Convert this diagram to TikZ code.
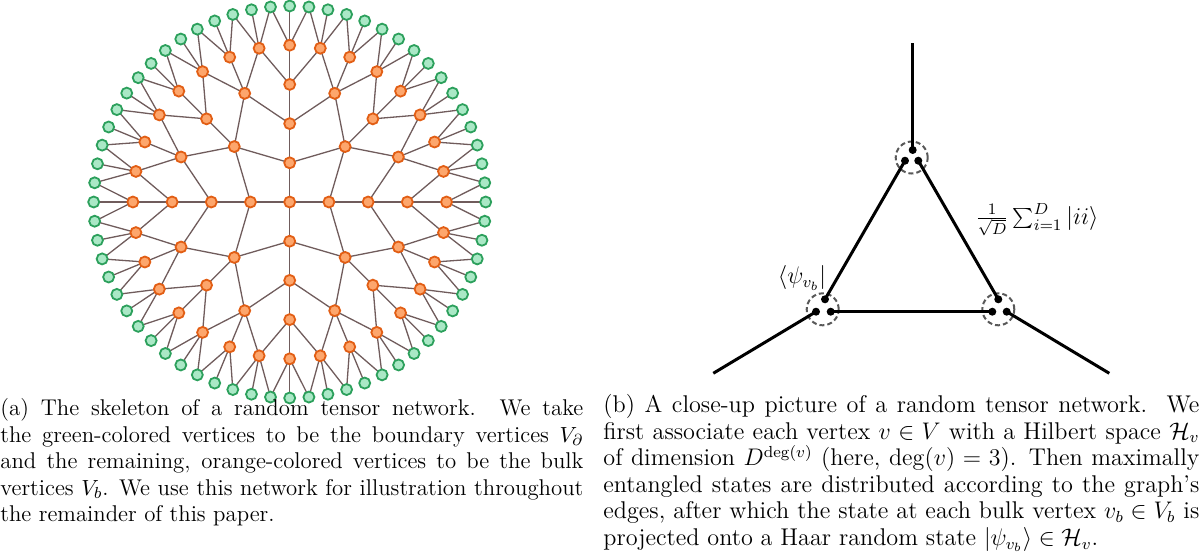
\documentclass[tikz,border=0pt]{standalone}
\usetikzlibrary{calc}
\pgfdeclarelayer{bg}
\pgfsetlayers{bg,main}
\definecolor{edgec}{RGB}{112,92,92}
\definecolor{orfill}{RGB}{253,166,108}
\definecolor{ordraw}{RGB}{226,94,20}
\definecolor{grfill}{RGB}{170,232,198}
\definecolor{grdraw}{RGB}{44,160,92}
\newcommand{\capline}[2]{\makebox[#1][s]{#2}}
\begin{document}
\begin{tikzpicture}[x=0.5pt,y=-0.5pt,
  bulk/.style={circle,draw=ordraw,fill=orfill,line width=0.9pt,minimum size=5.5pt,inner sep=0pt},
  bdry/.style={circle,draw=grdraw,fill=grfill,line width=0.9pt,minimum size=5.5pt,inner sep=0pt},
  link/.style={draw=edgec,line width=0.65pt},
  tline/.style={draw=black,line width=1.5pt},
  blackdot/.style={circle,fill=black,inner sep=0pt,minimum size=4pt},
  dashring/.style={circle,draw=black!65,line width=1pt,dash pattern=on 2.5pt off 1.5pt,minimum size=16pt,inner sep=0pt},
  capta/.style={inner sep=0pt,align=left,font=\fontsize{11.4}{13.25}\selectfont},
  captb/.style={inner sep=0pt,align=left,font=\fontsize{12.1}{13.3}\selectfont},
  lab/.style={inner sep=1pt,font=\fontsize{11.5}{13.25}\selectfont}]
\useasboundingbox (0,0) rectangle (1200,553);
% ---------- (a) network ----------
\coordinate (O) at (289.7,202);
\node[bulk] (c) at (O) {};
\foreach \k in {1,...,5} {
  \pgfmathtruncatemacro\N{4*2^(\k-1)}
  \pgfmathtruncatemacro\Nm{\N-1}
  \pgfmathsetmacro\r{39.2*\k}
  \pgfmathsetmacro\da{360/\N}
  \foreach \j in {0,...,\Nm} {
    \pgfmathsetmacro\a{\da*\j}
    \ifnum\k=5
      \node[bdry] (n\k-\j) at ($(O)+(\a:\r)$) {};
    \else
      \node[bulk] (n\k-\j) at ($(O)+(\a:\r)$) {};
    \fi
  }
}
\begin{pgfonlayer}{bg}
  \foreach \j in {0,...,3} \draw[link] (c.center) -- (n1-\j.center);
  \foreach \k in {1,...,4} {
    \pgfmathtruncatemacro\N{4*2^(\k-1)}
    \pgfmathtruncatemacro\Nm{\N-1}
    \pgfmathtruncatemacro\Nn{2*\N}
    \pgfmathtruncatemacro\kk{\k+1}
    \foreach \j in {0,...,\Nm} {
      \pgfmathtruncatemacro\ma{mod(2*\j-1+\Nn,\Nn)}
      \pgfmathtruncatemacro\mb{2*\j}
      \pgfmathtruncatemacro\mc{2*\j+1}
      \draw[link] (n\k-\j.center) -- (n\kk-\ma.center);
      \draw[link] (n\k-\j.center) -- (n\kk-\mb.center);
      \draw[link] (n\k-\j.center) -- (n\kk-\mc.center);
    }
  }
\end{pgfonlayer}
% ---------- (b) close-up ----------
\node[dashring] (rt) at (911.7,157.5) {};
\node[dashring] (rl) at (822.7,309.3) {};
\node[dashring] (rr) at (998.3,309.3) {};
\node[blackdot] (t0) at (912.7,150) {};
\node[blackdot] (t1) at (905,160.7) {};
\node[blackdot] (t2) at (918.3,160.7) {};
\node[blackdot] (l0) at (825,299.3) {};
\node[blackdot] (l1) at (816,311.7) {};
\node[blackdot] (l2) at (830.7,311.7) {};
\node[blackdot] (r0) at (998.3,299.3) {};
\node[blackdot] (r1) at (992.3,311.7) {};
\node[blackdot] (r2) at (1006.7,311.7) {};
\coordinate (et) at (912.7,43.3);
\coordinate (el) at (713.3,373.3);
\coordinate (er) at (1109.3,373.3);
\draw[tline] (t0.center) -- (et);
\draw[tline] (t1.center) -- (l0.center);
\draw[tline] (t2.center) -- (r0.center);
\draw[tline] (l2.center) -- (r1.center);
\draw[tline] (l1.center) -- (el);
\draw[tline] (r2.center) -- (er);
\node[lab] (labsum) at (1037,220) {$\frac{1}{\sqrt{D}}\sum_{i=1}^{D}|ii\rangle$};
\node[lab] (labpsi) at (802,278) {$\langle\psi_{v_b}|$};
% ---------- captions ----------
\node[capta,anchor=north west] (capa) at (0,398) {%
\capline{291.5pt}{(a) The skeleton of a random tensor network.\ \ We take}\\
\capline{291.5pt}{the green-colored vertices to be the boundary vertices $V_\partial$}\\
\capline{291.5pt}{and the remaining, orange-colored vertices to be the bulk}\\
\capline{291.5pt}{vertices $V_b$. We use this network for illustration throughout}\\
the remainder of this paper.};
\node[captb,anchor=north west] (capb) at (603,394) {%
\capline{298pt}{(b) A close-up picture of a random tensor network.\ \ We}\\
\capline{298pt}{first associate each vertex $v\in V$ with a Hilbert space $\mathcal{H}_v$}\\
\capline{298pt}{of dimension $D^{\deg(v)}$ (here, $\deg(v)=3$). Then maximally}\\
\capline{298pt}{entangled states are distributed according to the graph's}\\
\capline{298pt}{edges, after which the state at each bulk vertex $v_b\in V_b$ is}\\
projected onto a Haar random state $|\psi_{v_b}\rangle\in\mathcal{H}_v$.};
\end{tikzpicture}
\end{document}
